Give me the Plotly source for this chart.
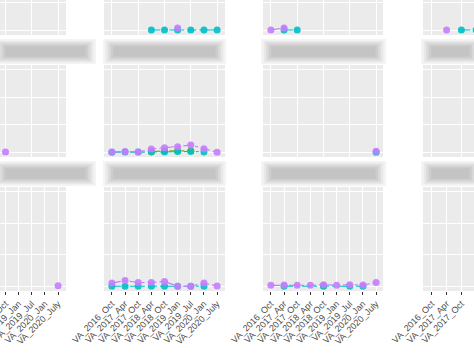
import plotly.graph_objects as go

# ---------------- data ----------------
categories = ["VA_2016_Oct", "VA_2017_Apr", "VA_2017_Oct", "VA_2018_Apr", "VA_2018_Oct",
              "VA_2019_Jan", "VA_2019_Jul", "VA_2020_Jan", "VA_2020_July"]
categories_col4 = ["VA_2016_Oct", "VA_2017_Apr", "VA_2017_Oct", "VA_2018_Apr", "VA_2018_Oct",
                   "VA_2019_Jul", "VA_2020_Jan", "VA_2020_July"]

N = None
# row 1
r1c2_teal = [N, N, N, 0.03, 0.03, 0.03, 0.03, 0.03, 0.03]
r1c2_purple = [N, N, N, N, N, 0.10, N, N, N]
r1c3_teal = [N, 0.03, 0.03, N, N, N, N, N, N]
r1c3_purple = [0.03, 0.10, N, N, N, N, N, N, N]
r1c4_teal = [N, N, 0.03, 0.03, N, N, N, N]
r1c4_purple = [N, 0.03, N, N, N, N, N, N]
# row 2
r2c1_purple = [N, N, N, N, 0.03, N, N, N, N]
r2c2_green = [N, N, N, 0.04, 0.07, 0.07, 0.07, N, N]
r2c2_teal = [0.02, 0.03, 0.03, 0.03, 0.03, 0.05, 0.05, 0.03, N]
r2c2_purple = [0.03, 0.05, 0.03, 0.14, 0.18, 0.22, 0.28, 0.15, 0.02]
r2c3_teal = [N, N, N, N, N, N, N, N, 0.02]
r2c3_purple = [N, N, N, N, N, N, N, N, 0.06]
# row 3
r3c1_purple = [N, N, N, N, N, N, N, N, 0.02]
r3c2_teal = [0.0, 0.0, 0.0, 0.0, 0.0, 0.0, 0.0, 0.0, N]
r3c2_purple = [0.10, 0.18, 0.12, 0.12, 0.15, 0.0, 0.0, 0.10, 0.01]
r3c3_green = [N, N, N, N, 0.02, N, N, N, N]
r3c3_teal = [N, 0.0, N, N, 0.0, N, 0.0, 0.0, N]
r3c3_purple = [0.03, 0.04, 0.03, 0.03, 0.05, 0.03, 0.05, 0.04, 0.12]

GREEN, TEAL, PURPLE = "#7CAE00", "#00BFC4", "#C77CFF"

panels = {
    (0, 1): [(TEAL, r1c2_teal), (PURPLE, r1c2_purple)],
    (0, 2): [(TEAL, r1c3_teal), (PURPLE, r1c3_purple)],
    (0, 3): [(TEAL, r1c4_teal), (PURPLE, r1c4_purple)],
    (1, 0): [(PURPLE, r2c1_purple)],
    (1, 1): [(GREEN, r2c2_green), (TEAL, r2c2_teal), (PURPLE, r2c2_purple)],
    (1, 2): [(TEAL, r2c3_teal), (PURPLE, r2c3_purple)],
    (2, 0): [(PURPLE, r3c1_purple)],
    (2, 1): [(TEAL, r3c2_teal), (PURPLE, r3c2_purple)],
    (2, 2): [(GREEN, r3c3_green), (TEAL, r3c3_teal), (PURPLE, r3c3_purple)],
}

# ---------------- layout geometry (pixels) ----------------
W, H = 474, 357
col_px = [(0, 66), (104, 225), (263, 383), (423, 474)]
row_px = [(0, 35), (65, 157), (187, 291)]
row_height_full = [92, 92, 104]

def xr(c):
    cats = categories_col4 if c == 3 else categories
    n = len(cats)
    step = 121 / (n - 1 + 1.2)
    x0, x1 = col_px[c]
    if c == 0:
        hi = n - 1 + 0.6
        lo = hi - (x1 - x0) / step
    else:
        lo = -0.6
        hi = lo + (x1 - x0) / step
    return [lo, hi]

def yr(r):
    y0, y1 = row_px[r]
    k = row_height_full[r] / 3.3
    lo = -0.15
    return [lo, lo + (y1 - y0) / k]

fig = go.Figure()
layout = {}
for r in range(3):
    for c in range(4):
        i = r * 4 + c + 1
        xa = "x" if i == 1 else f"x{i}"
        ya = "y" if i == 1 else f"y{i}"
        cats = categories_col4 if c == 3 else categories
        x0, x1 = col_px[c]
        y0, y1 = row_px[r]
        layout[f"xaxis{i}"] = dict(
            domain=[x0 / W, x1 / W], anchor=ya, type="category", automargin=False,
            categoryorder="array", categoryarray=cats, range=xr(c),
            showgrid=True, gridcolor="white", gridwidth=1.1, zeroline=False,
            showline=False, showticklabels=(r == 2), ticks="outside" if r == 2 else "",
            ticklen=3, tickcolor="#333333", tickwidth=1, tickangle=-45,
            tickfont=dict(family="Liberation Sans", size=9, color="#4D4D4D"),
        )
        layout[f"yaxis{i}"] = dict(
            domain=[1 - y1 / H, 1 - y0 / H], anchor=xa, range=yr(r), automargin=False,
            tickmode="array", tickvals=[0, 1, 2, 3], showgrid=True, gridcolor="white",
            gridwidth=1.1, zeroline=False, showticklabels=False, ticks="", showline=False,
        )
        fig.add_trace(go.Scatter(x=cats, y=[0] * len(cats), mode="markers",
                                 marker=dict(opacity=0), hoverinfo="skip",
                                 showlegend=False, xaxis=xa, yaxis=ya))
        for color, vals in panels.get((r, c), []):
            fig.add_trace(go.Scatter(
                x=cats, y=vals, mode="lines+markers", connectgaps=True,
                line=dict(color=color, width=1.2, dash="dashdot"),
                marker=dict(color=color, size=7, opacity=0.9),
                showlegend=False, xaxis=xa, yaxis=ya))

shapes = []
for r in range(3):
    for c in range(4):
        x0, x1 = col_px[c]
        y0, y1 = row_px[r]
        shapes.append(dict(type="rect", xref="paper", yref="paper", layer="below",
                           x0=x0 / W, x1=x1 / W, y0=1 - y1 / H, y1=1 - y0 / H,
                           fillcolor="#EBEBEB", line=dict(width=0)))

# blurred strip labels (soft layered boxes)
strip_rows = [(39, 64), (161, 186)]
strip_cols = [(-5, 96), (103, 226), (261, 386), (421, 480)]
layers = [(0, "#F4F4F4"), (2, "#E8E8E8"), (4, "#DADADA"), (6, "#CDCDCD"), (8, "#C4C4C4")]
for sy0, sy1 in strip_rows:
    for sx0, sx1 in strip_cols:
        for pad, col in layers:
            shapes.append(dict(type="rect", xref="paper", yref="paper",
                               x0=(sx0 + pad * 1.3) / W, x1=(sx1 - pad * 1.3) / W,
                               y0=1 - (sy1 - pad * 0.9) / H, y1=1 - (sy0 + pad * 0.9) / H,
                               fillcolor=col, line=dict(width=0)))

fig.update_layout(**layout)
fig.update_layout(width=W, height=H, margin=dict(l=0, r=0, t=0, b=0, autoexpand=False),
                  paper_bgcolor="white", plot_bgcolor="rgba(0,0,0,0)",
                  shapes=shapes, showlegend=False)
fig.write_html("out.html", config={"displayModeBar": False},
               post_script="document.body.style.margin='0';document.body.style.overflow='hidden';")
